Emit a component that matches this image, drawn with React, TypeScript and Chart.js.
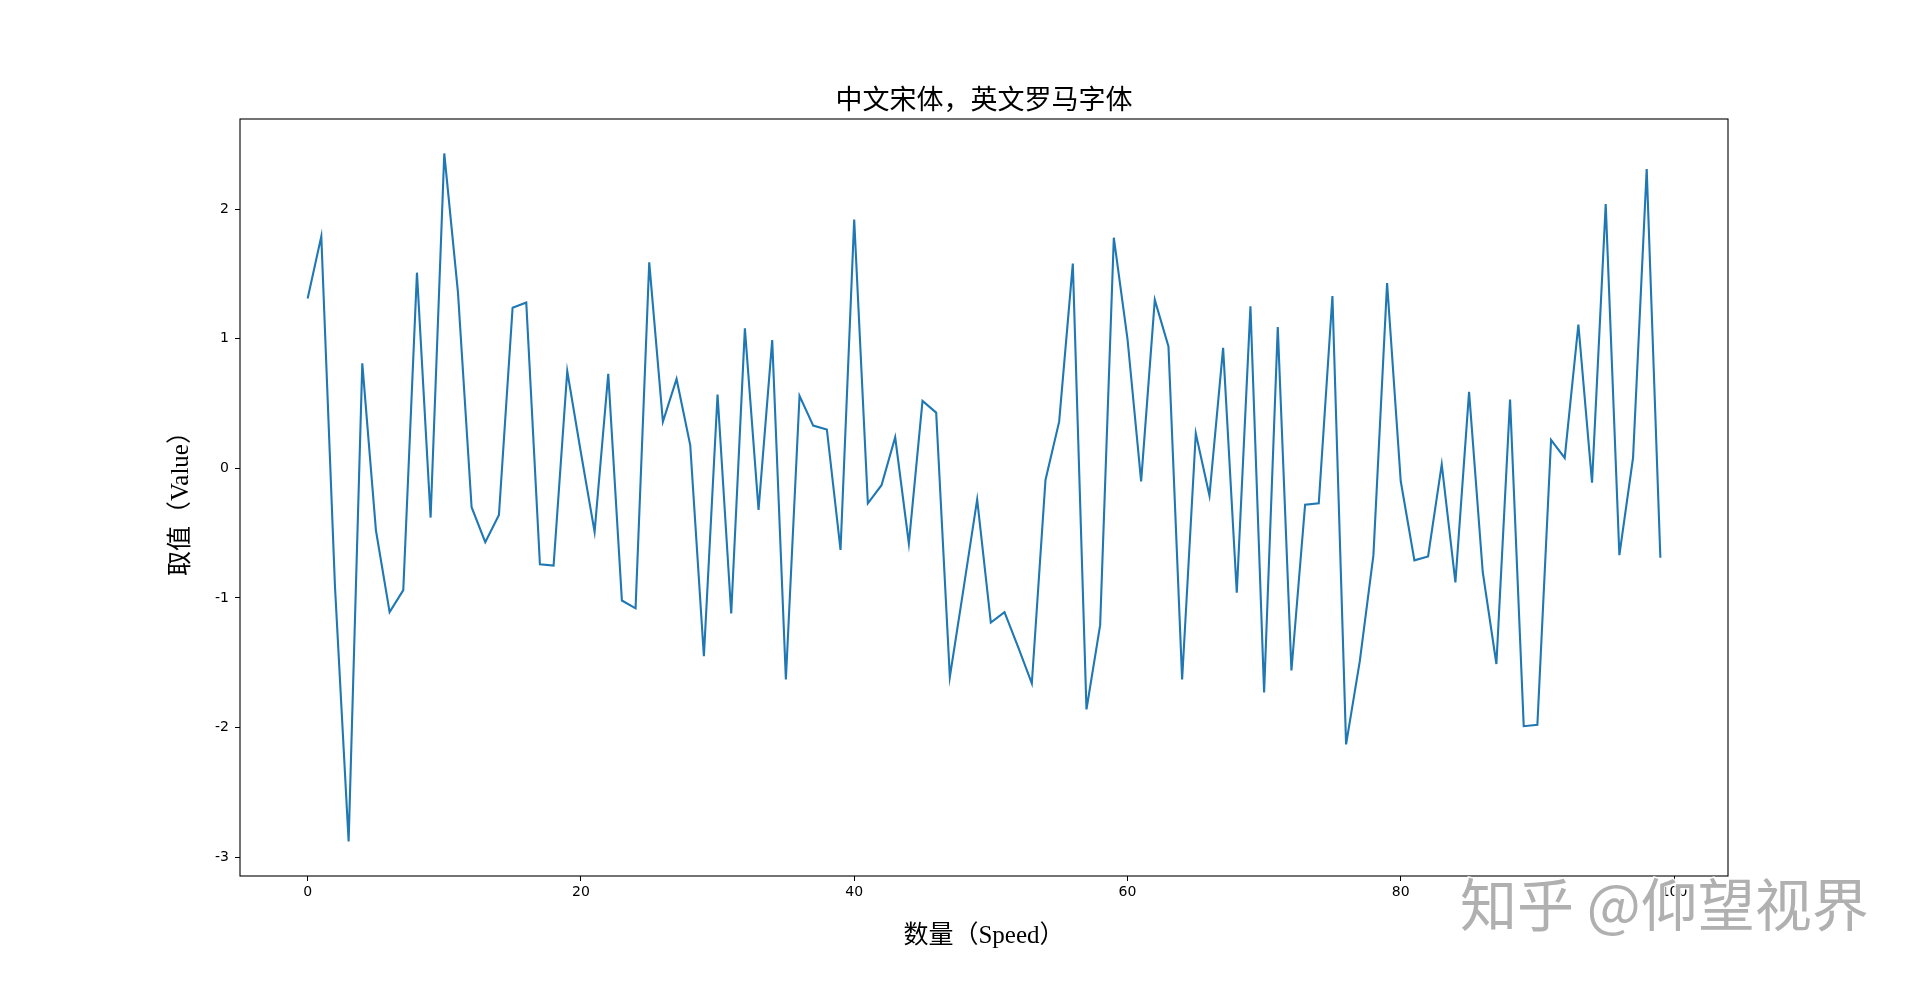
import { useEffect, useRef } from "react";
import { Chart, registerables } from "chart.js";

Chart.register(...registerables);

const seriesValues = [
  1.31, 1.79, -0.91, -2.88, 0.81, -0.48, -1.11, -0.94, 1.51, -0.38,
  2.43, 1.36, -0.3, -0.57, -0.36, 1.24, 1.28, -0.74, -0.75, 0.75,
  0.12, -0.49, 0.73, -1.02, -1.08, 1.59, 0.36, 0.69, 0.18, -1.45,
  0.57, -1.12, 1.08, -0.32, 0.99, -1.63, 0.56, 0.33, 0.3, -0.63,
  1.92, -0.27, -0.13, 0.24, -0.58, 0.52, 0.43, -1.61, -0.93, -0.24,
  -1.19, -1.11, -1.38, -1.66, -0.09, 0.36, 1.58, -1.86, -1.21, 1.78,
  1.0, -0.1, 1.3, 0.94, -1.63, 0.27, -0.21, 0.93, -0.96, 1.25,
  -1.73, 1.09, -1.56, -0.28, -0.27, 1.33, -2.13, -1.49, -0.67, 1.43,
  -0.1, -0.71, -0.68, 0.03, -0.88, 0.59, -0.8, -1.51, 0.53, -1.99,
  -1.98, 0.22, 0.08, 1.11, -0.11, 2.04, -0.67, 0.08, 2.31, -0.69,
];
const xTicks = [0, 20, 40, 60, 80, 100];
const yTicks = [-3, -2, -1, 0, 1, 2];
const xRange = [-4.95, 103.95];
const yRange = [-3.146, 2.696];
const titleText = "中文宋体，英文罗马字体";
const xLabel = "数量（Speed）";
const yLabel = "取值（Value）";
const watermarkText = "知乎 @仰望视界";

const textPlugin = {
  id: "textPlugin",
  afterDraw(chart: any) {
    const { ctx, chartArea } = chart;
    const { left, right, top, bottom } = chartArea;
    ctx.save();
    ctx.strokeStyle = "#000";
    ctx.lineWidth = 1.1;
    ctx.strokeRect(left, top, right - left, bottom - top);
    const cx = (left + right) / 2;
    const cy = (top + bottom) / 2;
    ctx.fillStyle = "#000";
    ctx.textAlign = "center";
    ctx.textBaseline = "middle";
    ctx.font = "27px 'Liberation Serif', 'Noto Sans CJK SC'";
    ctx.fillText(titleText, cx, 102);
    ctx.font = "25px 'Liberation Serif', 'Noto Sans CJK SC'";
    ctx.fillText(xLabel, cx, 936);
    ctx.save();
    ctx.translate(181, cy);
    ctx.rotate(-Math.PI / 2);
    ctx.fillText(yLabel, 0, 0);
    ctx.restore();
    ctx.font = "57px 'Noto Sans CJK SC'";
    ctx.textAlign = "left";
    ctx.textBaseline = "alphabetic";
    ctx.lineWidth = 3;
    ctx.strokeStyle = "rgba(255,255,255,0.9)";
    ctx.strokeText(watermarkText, 1460, 926);
    ctx.fillStyle = "#b0b0b0";
    ctx.fillText(watermarkText, 1460, 926);
    ctx.restore();
  },
};

export default function App() {
  const canvasRef = useRef<HTMLCanvasElement | null>(null);
  useEffect(() => {
    const canvas = canvasRef.current;
    if (!canvas) return;
    const points = seriesValues.map((v, i) => ({ x: i, y: v }));
    const chart = new Chart(canvas, {
      type: "line",
      data: {
        datasets: [
          {
            data: points,
            borderColor: "#1f77b4",
            borderWidth: 2.1,
            pointRadius: 0,
            fill: false,
            tension: 0,
          },
        ],
      },
      options: {
        animation: false,
        responsive: false,
        devicePixelRatio: 1,
        layout: { padding: { top: 119, right: 192, left: 0, bottom: 0 } },
        plugins: {
          legend: { display: false },
          tooltip: { enabled: false },
          title: { display: false },
        },
        scales: {
          x: {
            type: "linear",
            min: xRange[0],
            max: xRange[1],
            afterBuildTicks: (s: any) => {
              s.ticks = xTicks.map((v) => ({ value: v }));
            },
            afterFit: (s: any) => {
              s.height = 107;
            },
            grid: {
              display: true,
              drawOnChartArea: false,
              drawTicks: true,
              tickLength: 5,
              color: "#000",
              lineWidth: 1,
            },
            border: { display: false },
            ticks: {
              color: "#000",
              padding: 3,
              maxRotation: 0,
              autoSkip: false,
              font: { family: "'DejaVu Sans'", size: 14 },
            },
          },
          y: {
            type: "linear",
            min: yRange[0],
            max: yRange[1],
            afterBuildTicks: (s: any) => {
              s.ticks = yTicks.map((v) => ({ value: v }));
            },
            afterFit: (s: any) => {
              s.width = 240;
            },
            grid: {
              display: true,
              drawOnChartArea: false,
              drawTicks: true,
              tickLength: 5,
              color: "#000",
              lineWidth: 1,
            },
            border: { display: false },
            ticks: {
              color: "#000",
              padding: 6,
              autoSkip: false,
              font: { family: "'DejaVu Sans'", size: 14 },
            },
          },
        },
      },
      plugins: [textPlugin],
    });
    return () => chart.destroy();
  }, []);
  return (
    <div style={{ position: "fixed", left: 0, top: 0, width: 1920, height: 983, background: "#fff" }}>
      <canvas ref={canvasRef} width={1920} height={983} style={{ display: "block" }} />
    </div>
  );
}
